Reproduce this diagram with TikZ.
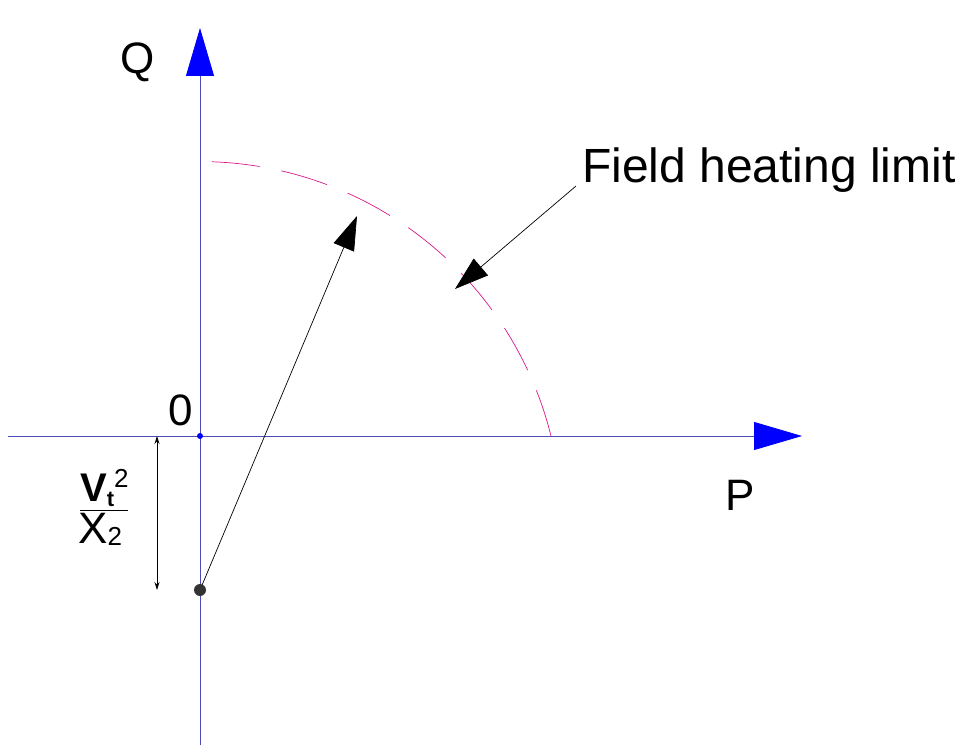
\documentclass[tikz,border=0pt]{standalone}
\usepackage{fontspec}
\setmainfont{Liberation Sans}
\usetikzlibrary{arrows.meta}
\begin{document}
\begin{tikzpicture}[x=1pt,y=-1pt,
  axis/.style={draw=blue!60!black!70!white,line width=0.8pt},
  bigtip/.style={-{Triangle[length=48pt,width=28pt,fill=blue,color=blue]}},
  lbl/.style={font=\fontsize{44}{46}\selectfont,inner sep=0pt}]
\useasboundingbox (0,0) rectangle (977,754);
\coordinate (xs) at (8,436); \coordinate (xe) at (802,436);
\coordinate (ys) at (200,745); \coordinate (ye) at (200,28);
\draw[axis,bigtip] (xs) -- (xe);
\draw[axis,bigtip] (ys) -- (ye);
\draw[magenta!80!violet,line width=0.7pt,dash pattern=on 48pt off 22pt]
  (551,436) arc[start angle=-14.0,end angle=-90,radius=362];
\node[lbl] (q) at (138,62) {Q};
\node[lbl] (zero) at (181,410) {0};
\node[lbl] (p) at (740,495) {P};
\node[lbl,anchor=west,font=\fontsize{48}{50}\selectfont] (fh) at (582,170) {Field heating limit};
\coordinate (o) at (200,436);
\fill[blue] (o) circle (3);
\coordinate (c) at (200,590);
\coordinate (tip) at (357,216);
\coordinate (ptr) at (455,289);
\coordinate (ps) at (576,186);
\draw[line width=0.7pt,-{Triangle[length=34pt,width=22pt]}] (c) -- (tip);
\draw[line width=0.7pt,-{Triangle[length=34pt,width=22pt]}] (ps) -- (ptr);
\fill[black!80] (c) circle (6);
\coordinate (d1) at (157,436); \coordinate (d2) at (157,590);
\draw[line width=0.7pt,{Stealth[length=8pt,width=5pt]}-{Stealth[length=8pt,width=5pt]}] (d1) -- (d2);
\node[inner sep=0pt,anchor=south west] (vt) at (80,507) {\fontsize{40}{42}\selectfont\textbf{V}\raisebox{-5pt}{\fontsize{22}{24}\selectfont\textbf{t}}\raisebox{14pt}{\fontsize{26}{28}\selectfont 2}};
\node[inner sep=0pt,anchor=north west] (x2) at (78,513) {\fontsize{44}{46}\selectfont X\raisebox{-2pt}{\fontsize{26}{28}\selectfont 2}};
\coordinate (f1) at (80,510); \coordinate (f2) at (128,510);
\draw[line width=0.8pt] (f1) -- (f2);
\end{tikzpicture}
\end{document}
